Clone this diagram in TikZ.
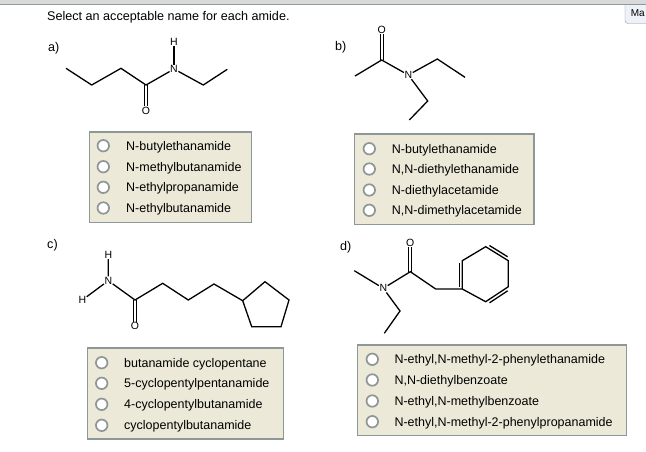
\documentclass[tikz,border=0pt]{standalone}
\usepackage{fontspec}
\setmainfont{Liberation Sans}
\usetikzlibrary{calc}
\definecolor{boxfill}{HTML}{ECE9D8}
\definecolor{boxline}{HTML}{8C9896}
\definecolor{radioline}{HTML}{8F9696}
\definecolor{topline}{HTML}{8E9A9A}
\definecolor{mapfill}{HTML}{EEF1F8}
\tikzset{
    bond/.style={line width=1.3pt,black},
    atom/.style={inner sep=0.4pt,font=\fontsize{10.5}{11}\selectfont},
    question/.style={inner sep=0pt,anchor=west,text height=9pt,text depth=0pt,font=\fontsize{12.6}{14}\selectfont},
    optbox/.style={draw=boxline,fill=boxfill,line width=1.4pt},
    radio/.style={circle,draw=radioline,fill=white,line width=1.7pt,minimum size=11.5pt,inner sep=0pt},
    opttext/.style={inner sep=0pt,anchor=west,text height=9pt,text depth=0pt,font=\fontsize{12.5}{14}\selectfont},
}
\begin{document}
\begin{tikzpicture}[x=1pt,y=-1pt]
    \useasboundingbox (0,0) rectangle (646,451);
    \fill[white] (0,0) rectangle (646,451);

    \fill[black!15] (0,0) rectangle (646,3.5);
    \draw[topline,line width=1.1pt] (0,4.4)--(646,4.4);
    \begin{scope}
        \clip (600,0) rectangle (646,30);
        \draw[fill=mapfill,draw=boxline,rounded corners=3pt] (625,5)--(625,23.5)--(660,23.5)--(660,5);
    \end{scope}
    \node[question,font=\fontsize{10}{12}\selectfont,text height=7pt] (mapbtn) at (630.7,13) {Ma};

    \node[question] (title) at (47,15.7) {Select an acceptable name for each amide.};
    \node[question] (laba) at (48,46.5) {a)};
    \node[question] (labb) at (335,45.5) {b)};
    \node[question] (labc) at (47,243.5) {c)};
    \node[question] (labd) at (340,246) {d)};

    % a)
    \coordinate (a1) at (66,68.3);
    \coordinate (a2) at (91.7,85);
    \coordinate (a3) at (121,68.3);
    \coordinate (a4) at (146,85);
    \node[atom] (aN) at (174,69) {N};
    \node[atom] (aH) at (174,41.7) {H};
    \node[atom] (aO) at (146,110.7) {O};
    \coordinate (a5) at (203.3,85);
    \coordinate (a6) at (227.3,69.3);
    \draw[bond] (a1)--(a2)--(a3)--(a4)--(aN)--(a5)--(a6);
    \draw[bond] (aN)--(aH);
    \draw[bond] ($(a4)+(-1.5,0)$)--($(aO.north)+(-1.5,0)$);
    \draw[bond] ($(a4)+(1.5,0)$)--($(aO.north)+(1.5,0)$);

    % b)
    \node[atom] (bO) at (381.7,30) {O};
    \coordinate (b1) at (355,76);
    \coordinate (b2) at (381.7,60);
    \node[atom] (bN) at (408.3,75) {N};
    \coordinate (b3) at (437.3,59);
    \coordinate (b4) at (465,77.3);
    \coordinate (b5) at (427.7,101);
    \coordinate (b6) at (409.3,120);
    \draw[bond] (b1)--(b2)--(bN)--(b3)--(b4);
    \draw[bond] (bN)--(b5)--(b6);
    \draw[bond] ($(b2)+(-1.5,0)$)--($(bO.south)+(-1.5,0)$);
    \draw[bond] ($(b2)+(1.5,0)$)--($(bO.south)+(1.5,0)$);

    % c)
    \node[atom] (cH) at (108.3,255) {H};
    \node[atom] (cN) at (108.3,280.7) {N};
    \node[atom] (cHb) at (82.3,300) {H};
    \node[atom] (cO) at (135,326) {O};
    \coordinate (c1) at (135,300);
    \coordinate (c2) at (162.7,283.3);
    \coordinate (c3) at (188.3,300);
    \coordinate (c4) at (214,284);
    \coordinate (c5) at (242.7,300.7);
    \coordinate (c6) at (265,281.7);
    \coordinate (c7) at (289,300);
    \coordinate (c8) at (281,326.7);
    \coordinate (c9) at (251.7,326.7);
    \draw[bond] (cH)--(cN)--(c1)--(c2)--(c3)--(c4)--(c5);
    \draw[bond] (cN)--(cHb);
    \draw[bond] (c5)--(c6)--(c7)--(c8)--(c9)--cycle;
    \draw[bond] ($(c1)+(-1.5,0)$)--($(cO.north)+(-1.5,0)$);
    \draw[bond] ($(c1)+(1.5,0)$)--($(cO.north)+(1.5,0)$);

    % d)
    \node[atom] (dO) at (410.3,242.7) {O};
    \coordinate (d1) at (410.3,271.7);
    \coordinate (d2) at (354.3,270.7);
    \node[atom] (dN) at (383.3,288.3) {N};
    \coordinate (d3) at (400,311);
    \coordinate (d4) at (384.3,333.3);
    \coordinate (d5) at (435.7,289);
    \coordinate (r1) at (462.3,289);
    \coordinate (r2) at (462.3,260.7);
    \coordinate (r3) at (485.7,246.7);
    \coordinate (r4) at (508.3,260.7);
    \coordinate (r5) at (508.3,286.7);
    \coordinate (r6) at (485.7,301.7);
    \draw[bond] (d2)--(dN)--(d1)--(d5)--(r1);
    \draw[bond] (dN)--(d3)--(d4);
    \draw[bond] ($(d1)+(-1.5,0)$)--($(dO.south)+(-1.5,0)$);
    \draw[bond] ($(d1)+(1.5,0)$)--($(dO.south)+(1.5,0)$);
    \draw[bond] (r1)--(r2)--(r3)--(r4)--(r5)--(r6)--cycle;
    \draw[bond] ($(r1)!.08!(r2)+(-3,0)$)--($(r1)!.92!(r2)+(-3,0)$);
    \draw[bond] ($(r3)!.1!(r4)+(1.5,-2.6)$)--($(r3)!.9!(r4)+(1.5,-2.6)$);
    \draw[bond] ($(r5)!.1!(r6)+(1.6,2.6)$)--($(r5)!.9!(r6)+(1.6,2.6)$);

    % answer boxes
    \draw[optbox] (89.3,132)rectangle(251.7,222.5);
    \draw[optbox] (354.3,134)rectangle(534,224.3);
    \draw[optbox] (87.3,348)rectangle(283.3,439);
    \draw[optbox] (357.3,345)rectangle(626.7,435.3);

    \foreach \i/\y/\t in {1/145.7/N-butylethanamide,2/166.7/N-methylbutanamide,3/187.3/N-ethylpropanamide,4/208/N-ethylbutanamide}{
        \node[radio] (ra\i) at (103.3,\y) {};
        \node[opttext] (ta\i) at (126,\y) {\t};
    }
    \foreach \i/\y/\t in {1/148.7/N-butylethanamide,2/169/{N,N-diethylethanamide},3/190/N-diethylacetamide,4/210.3/{N,N-dimethylacetamide}}{
        \node[radio] (rb\i) at (369.3,\y) {};
        \node[opttext] (tb\i) at (391.7,\y) {\t};
    }
    \foreach \i/\y/\t in {1/362.7/butanamide cyclopentane,2/383.3/5-cyclopentylpentanamide,3/404.3/4-cyclopentylbutanamide,4/425.3/cyclopentylbutanamide}{
        \node[radio] (rc\i) at (101.7,\y) {};
        \node[opttext] (tc\i) at (124,\y) {\t};
    }
    \foreach \i/\y/\t in {1/359.3/{N-ethyl,N-methyl-2-phenylethanamide},2/380/{N,N-diethylbenzoate},3/401/{N-ethyl,N-methylbenzoate},4/421.7/{N-ethyl,N-methyl-2-phenylpropanamide}}{
        \node[radio] (rd\i) at (372.3,\y) {};
        \node[opttext] (td\i) at (394.3,\y) {\t};
    }
\end{tikzpicture}
\end{document}
